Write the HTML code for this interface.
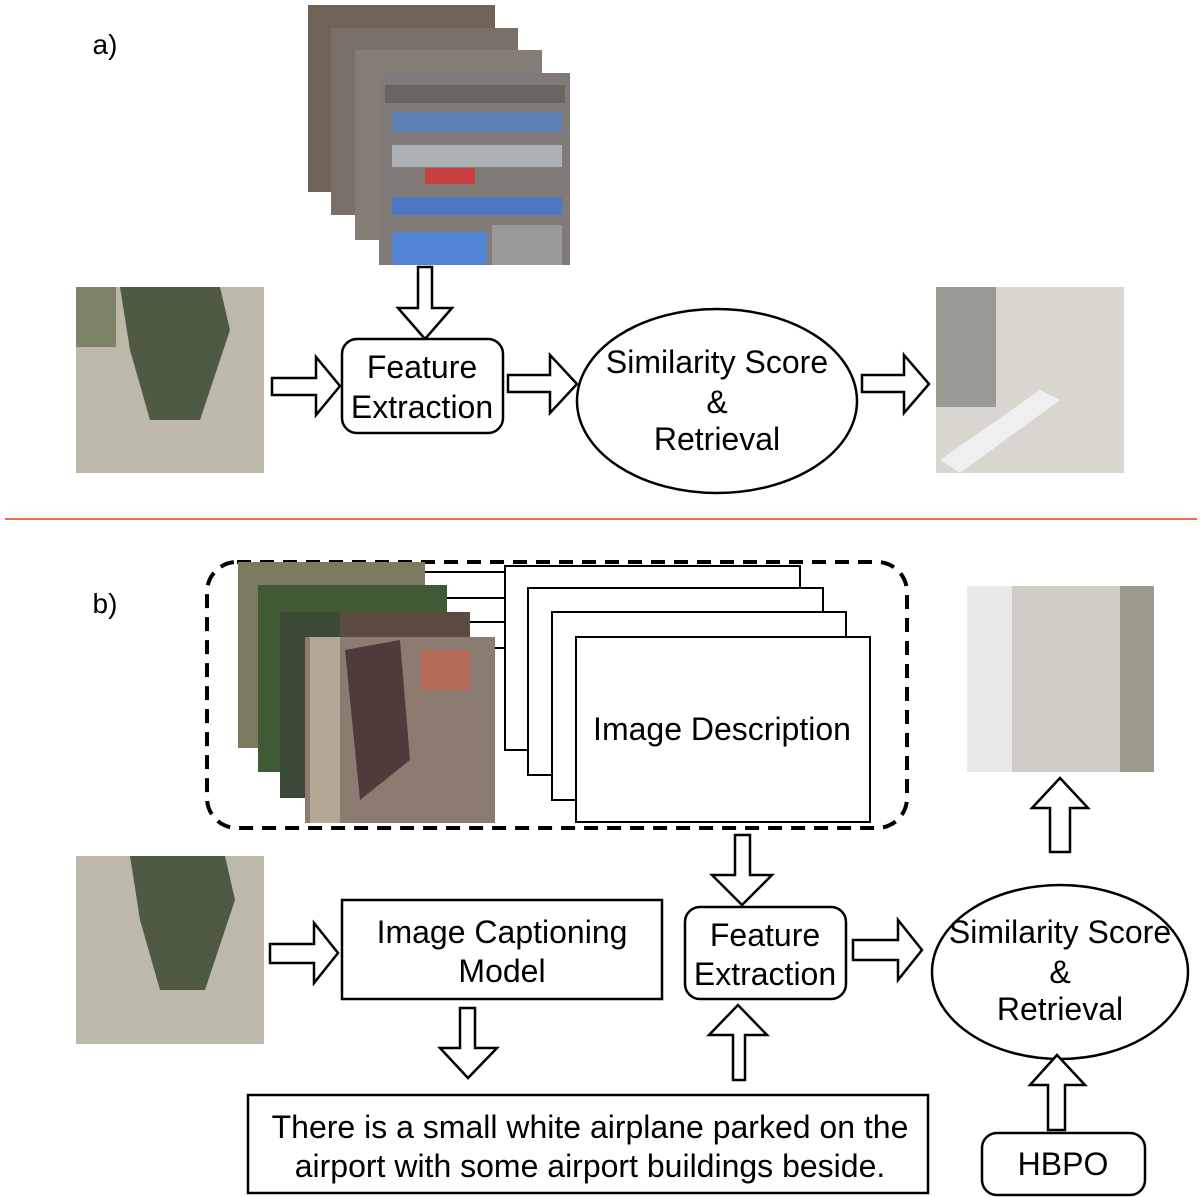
<!DOCTYPE html>
<html><head><meta charset="utf-8"><style>body{margin:0;background:#fff}svg{display:block}text{font-family:"Liberation Sans",sans-serif;fill:#000}</style></head><body>
<svg width="1200" height="1197" viewBox="0 0 1200 1197" xmlns="http://www.w3.org/2000/svg">
<g font-size="32" text-anchor="middle">
<text x="105" y="54" font-size="28">a)</text>
<rect x="308" y="5" width="187" height="187" fill="#6f6358"/>
<rect x="331" y="28" width="187" height="187" fill="#7a6f66"/>
<rect x="355" y="50" width="187" height="190" fill="#837d75"/>
<rect x="379" y="73" width="191" height="192" fill="#807b78"/>
<rect x="385" y="85" width="180" height="18" fill="#6a655f"/>
<rect x="392" y="112" width="170" height="20" fill="#5d80b5"/>
<rect x="392" y="145" width="170" height="22" fill="#aeb1b4"/>
<rect x="425" y="168" width="50" height="16" fill="#c84040"/>
<rect x="392" y="197" width="170" height="18" fill="#4d78c4"/>
<rect x="392" y="232" width="95" height="33" fill="#4f85d4"/>
<rect x="492" y="225" width="70" height="40" fill="#9b9a98"/>
<rect x="76" y="287" width="188" height="186" fill="#bdb9aa"/>
<path d="M120 287 L220 287 L230 330 L200 420 L150 420 L130 350 Z" fill="#4f5a45"/>
<rect x="76" y="287" width="40" height="60" fill="#7c8366"/>
<rect x="936" y="287" width="188" height="186" fill="#d8d6cf"/>
<rect x="936" y="287" width="60" height="120" fill="#9a9a94"/>
<path d="M940 460 L1040 390 L1060 400 L960 473 Z" fill="#efefef"/>
<g fill="#fff" stroke="#000" stroke-width="2.5">
<path d="M418 267 H432 V308 H452 L425 339 L398 308 H418 Z"/>
<path d="M272 378 H316 V357 L340 386 L316 415 V395 H272 Z"/>
<path d="M508 375 H550 V355 L577 384 L550 413 V392 H508 Z"/>
<path d="M862 375 H904 V355 L929 384 L904 413 V392 H862 Z"/>
<rect x="342" y="339" width="161" height="94" rx="15"/>
<ellipse cx="717" cy="401" rx="140" ry="92"/>
</g>
<text x="422" y="378">Feature</text>
<text x="422" y="418">Extraction</text>
<text x="717" y="373">Similarity Score</text>
<text x="717" y="413">&amp;</text>
<text x="717" y="450">Retrieval</text>
<line x1="5" y1="519" x2="1197" y2="519" stroke="#e8704a" stroke-width="2"/>
<text x="105" y="613" font-size="28">b)</text>
<rect x="207" y="562" width="700" height="266" rx="30" fill="none" stroke="#000" stroke-width="4" stroke-dasharray="14 9"/>
<g stroke="#000" stroke-width="2" fill="#fff">
<line x1="425" y1="572" x2="505" y2="572"/>
<line x1="447" y1="598" x2="528" y2="598"/>
<line x1="470" y1="622" x2="552" y2="622"/>
<line x1="495" y1="648" x2="576" y2="648"/>
<rect x="505" y="566" width="295" height="184"/>
<rect x="528" y="588" width="295" height="187"/>
<rect x="552" y="612" width="294" height="188"/>
<rect x="576" y="637" width="294" height="185"/>
</g>
<rect x="238" y="562" width="187" height="186" fill="#7d7a62"/>
<rect x="258" y="585" width="189" height="187" fill="#3f5a34"/>
<rect x="280" y="612" width="190" height="186" fill="#5a4a40"/>
<rect x="280" y="612" width="60" height="186" fill="#3b4a36"/>
<rect x="305" y="637" width="190" height="186" fill="#8c7b70"/>
<rect x="310" y="637" width="30" height="186" fill="#b3a796"/>
<path d="M345 650 L400 640 L410 760 L360 800 Z" fill="#4e3c3a"/>
<rect x="420" y="650" width="50" height="40" fill="#b36a56"/>
<text x="722" y="740">Image Description</text>
<rect x="76" y="856" width="188" height="188" fill="#bdb9aa"/>
<path d="M130 856 L225 856 L235 900 L205 990 L160 990 L140 920 Z" fill="#4f5a45"/>
<rect x="967" y="586" width="187" height="186" fill="#cfcdc6"/>
<rect x="967" y="586" width="45" height="186" fill="#e9e9e7"/>
<rect x="1120" y="586" width="34" height="186" fill="#9c9a8c"/>
<g fill="#fff" stroke="#000" stroke-width="2.5">
<path d="M735 835 H750 V875 H772 L742 905 L712 875 H735 Z"/>
<path d="M270 944 H314 V923 L338 953 L314 983 V963 H270 Z"/>
<rect x="342" y="900" width="320" height="99"/>
<path d="M460 1008 H475 V1048 H497 L468 1078 L440 1048 H460 Z"/>
<rect x="685" y="907" width="161" height="92" rx="15"/>
<path d="M733 1080 H745 V1035 H767 L738 1005 L709 1035 H733 Z"/>
<path d="M853 940 H898 V920 L922 950 L898 980 V960 H853 Z"/>
<ellipse cx="1060" cy="972" rx="128" ry="87"/>
<path d="M1050 852 H1070 V808 H1088 L1060 778 L1032 808 H1050 Z"/>
<path d="M1048 1130 H1065 V1085 H1085 L1057 1055 L1030 1085 H1048 Z"/>
<rect x="982" y="1133" width="163" height="62" rx="15"/>
<rect x="248" y="1095" width="680" height="98"/>
</g>
<text x="502" y="943">Image Captioning</text>
<text x="502" y="982">Model</text>
<text x="765" y="946">Feature</text>
<text x="765" y="985">Extraction</text>
<text x="1060" y="943">Similarity Score</text>
<text x="1060" y="983">&amp;</text>
<text x="1060" y="1020">Retrieval</text>
<text x="1063" y="1175">HBPO</text>
<text x="590" y="1138">There is a small white airplane parked on the</text>
<text x="590" y="1177">airport with some airport buildings beside.</text>
</g>
</svg>
</body></html>
